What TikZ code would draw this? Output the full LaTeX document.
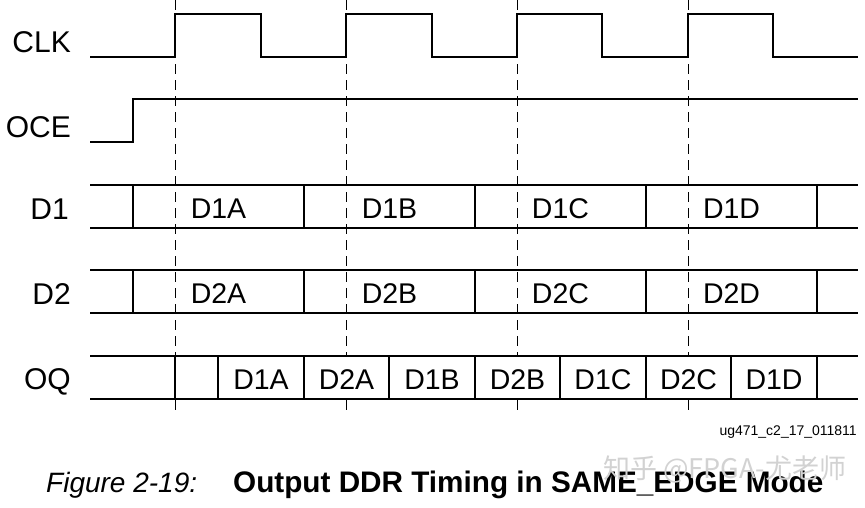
\documentclass[tikz,border=0pt]{standalone}
\usepackage{fontspec}
\setmainfont{Liberation Sans}
\newfontfamily\cjk{Noto Sans CJK SC}
\begin{document}
\begin{tikzpicture}[x=1pt,y=-1pt,
  sig/.style={line width=1.8pt, line join=miter},
  guide/.style={line width=0.9pt, dash pattern=on 10pt off 6pt},
  lbl/.style={anchor=base east, font=\fontsize{30}{36}\selectfont, inner sep=0pt},
  dat/.style={anchor=base, font=\fontsize{28.5}{34}\selectfont, inner sep=0pt}]
\useasboundingbox (0,0) rectangle (865,507);
\fill[white] (0,0) rectangle (865,507);
% dashed guides at rising clock edges
\foreach \x in {175,346,517,688} \draw[guide] (\x,0) -- (\x,412);
% OQ cells hide the guides
\fill[white] (176,357) rectangle (857,398);
% signal names
\node[lbl] (lclk) at (71,52) {CLK};
\node[lbl] (loce) at (71,137) {OCE};
\node[lbl] (ld1) at (69,219) {D1};
\node[lbl] (ld2) at (71,304) {D2};
\node[lbl] (loq) at (71,389) {OQ};
% CLK
\draw[sig] (90,57) -- (175,57) -- (175,14) -- (261,14) -- (261,57) -- (346,57) -- (346,14) -- (432,14) -- (432,57) -- (517,57) -- (517,14) -- (602,14) -- (602,57) -- (688,57) -- (688,14) -- (773,14) -- (773,57) -- (858,57);
% OCE
\draw[sig] (90,142) -- (133,142) -- (133,99) -- (858,99);
% D1 bus
\draw[sig] (90,185) -- (858,185) (90,228) -- (858,228);
\foreach \x in {133,304,475,646,817} \draw[sig] (\x,185) -- (\x,228);
% D2 bus
\draw[sig] (90,270) -- (858,270) (90,313) -- (858,313);
\foreach \x in {133,304,475,646,817} \draw[sig] (\x,270) -- (\x,313);
% OQ bus
\draw[sig] (90,356) -- (858,356) (90,399) -- (858,399);
\foreach \x in {175,218,304,389,475,560,646,731,817} \draw[sig] (\x,356) -- (\x,399);
% data labels
\node[dat] (d1a) at (218.5,218) {D1A};
\node[dat] (d1b) at (389.5,218) {D1B};
\node[dat] (d1c) at (560.5,218) {D1C};
\node[dat] (d1d) at (731.5,218) {D1D};
\node[dat] (d2a) at (218.5,303) {D2A};
\node[dat] (d2b) at (389.5,303) {D2B};
\node[dat] (d2c) at (560.5,303) {D2C};
\node[dat] (d2d) at (731.5,303) {D2D};
\node[dat] (q1) at (261,389) {D1A};
\node[dat] (q2) at (346.5,389) {D2A};
\node[dat] (q3) at (432,389) {D1B};
\node[dat] (q4) at (517.5,389) {D2B};
\node[dat] (q5) at (603,389) {D1C};
\node[dat] (q6) at (688.5,389) {D2C};
\node[dat] (q7) at (774,389) {D1D};
% figure id
\node[anchor=base east, font=\fontsize{14}{16}\selectfont, inner sep=0pt] (fid) at (857,435) {ug471\_c2\_17\_011811};
% caption
\node[anchor=base west, font=\fontsize{28}{34}\selectfont\itshape, inner sep=0pt] (cap1) at (46,492) {Figure 2-19:};
\node[anchor=base west, font=\fontsize{29.7}{34}\selectfont\bfseries, inner sep=0pt] (cap2) at (233,492) {Output DDR Timing in SAME\_EDGE Mode};
% watermark
\node[anchor=base west, font=\fontsize{27}{30}\selectfont\cjk, text=gray!35, inner sep=0pt] (wm) at (603,478) {知乎 @FPGA-尤老师};
\end{tikzpicture}
\end{document}
